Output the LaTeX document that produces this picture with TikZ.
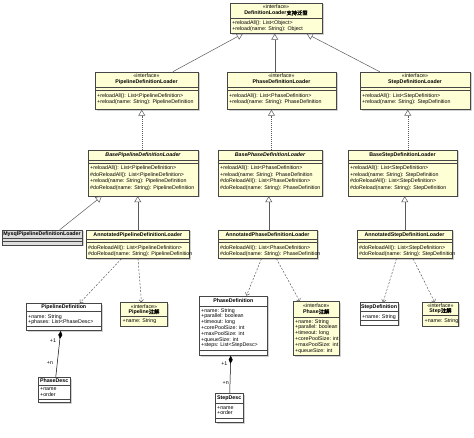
\documentclass[tikz,border=0pt]{standalone}
\usepackage{fontspec}
\setmainfont{Liberation Sans}
\newfontfamily\cjk[AutoFakeBold=2]{Noto Sans CJK SC}
\usetikzlibrary{arrows.meta,fit,shadows}
\definecolor{yfill}{RGB}{255,255,214}
\definecolor{gfill}{RGB}{222,222,222}
\definecolor{bord}{RGB}{70,70,70}
\definecolor{lc}{RGB}{90,90,90}
\newcommand\fs{\fontsize{5.3}{6}\selectfont}
\newcommand\clsbox[6]{\node[#6, fit={(#2,#3)(#4,#5)}] (#1) {};}
\newcommand\hsep[3]{\draw[sepline] (#1,#3) -- (#2,#3);}
\tikzset{
  cls/.style={draw=bord, line width=0.5pt, inner sep=0pt,
    drop shadow={shadow xshift=1.5pt, shadow yshift=-1.5pt, fill=gray!70, opacity=0.5}},
  ybox/.style={cls, fill=yfill},
  wbox/.style={cls, fill=white},
  gbox/.style={cls, fill=gfill},
  txt/.style={font=\fs, anchor=west, inner sep=0pt, text height=3.8pt, text depth=1pt},
  ttl/.style={font=\fs\bfseries, inner sep=0pt, text height=3.8pt, text depth=1pt},
  ster/.style={font=\fs, inner sep=0pt, text height=3.8pt, text depth=1pt},
  sepline/.style={draw=bord, line width=0.4pt},
  gen/.style={-{Triangle[open,length=6pt,width=7pt]}, draw=lc, line width=0.5pt},
  real/.style={gen, dash pattern=on 1pt off 1pt},
  dep/.style={-{Straight Barb[length=2.5pt,width=4.5pt]}, draw=lc, line width=0.5pt, dash pattern=on 2pt off 1.5pt},
  comp/.style={{Diamond[length=8pt,width=4pt]}-, draw=black, line width=0.5pt},
  mult/.style={font=\fs, inner sep=0pt}
}
\begin{document}
\begin{tikzpicture}[x=1pt,y=-1pt]
\useasboundingbox (0,0) rectangle (474,438);

% ---------- top interface
\clsbox{dl}{230}{3}{322}{33.5}{ybox}
\node[ster] (dls) at (276,7.5) {«interface»};
\node[ttl] (dlt) at (276,13.5) {DefinitionLoader{\cjk 支持泛型}};
\hsep{230}{322}{18.5}
\node[txt] (dlm1) at (232,23.5) {+reloadAll(): List<Object>};
\node[txt] (dlm2) at (232,29) {+reload(name: String): Object};

% ---------- level 2 interfaces
\clsbox{pdl}{95}{72}{198}{109.5}{ybox}
\node[ster] at (146.5,76.5) {«interface»};
\node[ttl] (pdlt) at (146.5,82.5) {PipelineDefinitionLoader};
\hsep{95}{198}{87.5}
\hsep{95}{198}{90.5}
\node[txt] at (97,96) {+reloadAll(): List<PipelineDefinition>};
\node[txt] at (97,102.5) {+reload(name: String): PipelineDefinition};

\clsbox{phdl}{227}{72}{336}{109.5}{ybox}
\node[ster] at (281.5,76.5) {«interface»};
\node[ttl] (phdlt) at (281.5,82.5) {PhaseDefinitionLoader};
\hsep{227}{336}{87.5}
\hsep{227}{336}{90.5}
\node[txt] at (229,96) {+reloadAll(): List<PhaseDefinition>};
\node[txt] at (229,102.5) {+reload(name: String): PhaseDefinition};

\clsbox{sdl}{360}{72}{470}{109.5}{ybox}
\node[ster] at (415,76.5) {«interface»};
\node[ttl] (sdlt) at (415,82.5) {StepDefinitionLoader};
\hsep{360}{470}{87.5}
\hsep{360}{470}{90.5}
\node[txt] at (362,96) {+reloadAll(): List<StepDefinition>};
\node[txt] at (362,102.5) {+reload(name: String): StepDefinition};

% ---------- level 3 base classes
\clsbox{bpdl}{88}{150}{198}{196}{ybox}
\node[ttl, font=\fs\bfseries\itshape] (bpdlt) at (143,155.5) {BasePipelineDefinitionLoader};
\hsep{88}{198}{160.5}
\hsep{88}{198}{163.5}
\node[txt] at (90,168.5) {+reloadAll(): List<PipelineDefinition>};
\node[txt] at (90,175) {\#doReloadAll(): List<PipelineDefinition>};
\node[txt] at (90,181.5) {+reload(name: String): PipelineDefinition};
\node[txt] at (90,188) {\#doReload(name: String): PipelineDefinition};

\clsbox{bphdl}{218}{150}{322}{196}{ybox}
\node[ttl, font=\fs\bfseries\itshape] (bphdlt) at (270,155.5) {BasePhaseDefinitionLoader};
\hsep{218}{322}{160.5}
\hsep{218}{322}{163.5}
\node[txt] at (220,168.5) {+reloadAll(): List<PhaseDefinition>};
\node[txt] at (220,175) {+reload(name: String): PhaseDefinition};
\node[txt] at (220,181.5) {\#doReloadAll(): List<PhaseDefinition>};
\node[txt] at (220,188) {\#doReload(name: String): PhaseDefinition};

\clsbox{bsdl}{348}{150}{457}{196}{ybox}
\node[ttl] (bsdlt) at (402.5,155.5) {BaseStepDefinitionLoader};
\hsep{348}{457}{160.5}
\hsep{348}{457}{163.5}
\node[txt] at (350,168.5) {+reloadAll(): List<StepDefinition>};
\node[txt] at (350,175) {+reload(name: String): StepDefinition};
\node[txt] at (350,181.5) {\#doReloadAll(): List<StepDefinition>};
\node[txt] at (350,188) {\#doReload(name: String): StepDefinition};

% ---------- level 4
\clsbox{mysql}{2}{230}{82}{245}{gbox}
\node[ttl] (mysqlt) at (42,234.5) {MysqlPipelineDefinitionLoader};
\hsep{2}{82}{238.7}
\hsep{2}{82}{241.5}

\clsbox{apdl}{86}{230}{189.5}{258.5}{ybox}
\node[ttl] (apdlt) at (137.75,235) {AnnotatedPipelineDefinitionLoader};
\hsep{86}{189.5}{239.3}
\hsep{86}{189.5}{242.7}
\node[txt] at (88,248.3) {\#doReloadAll(): List<PipelineDefinition>};
\node[txt] at (88,254) {\#doReload(name: String): PipelineDefinition};

\clsbox{aphdl}{218}{230}{317}{258.5}{ybox}
\node[ttl] (aphdlt) at (267.5,235) {AnnotatedPhaseDefinitionLoader};
\hsep{218}{317}{239.3}
\hsep{218}{317}{242.7}
\node[txt] at (220,248.3) {\#doReloadAll(): List<PhaseDefinition>};
\node[txt] at (220,254) {\#doReload(name: String): PhaseDefinition};

\clsbox{asdl}{357}{230}{452}{258.5}{ybox}
\node[ttl] (asdlt) at (404.5,235) {AnnotatedStepDefinitionLoader};
\hsep{357}{452}{239.3}
\hsep{357}{452}{242.7}
\node[txt] at (359,248.3) {\#doReloadAll(): List<StepDefinition>};
\node[txt] at (359,254) {\#doReload(name: String): StepDefinition};

% ---------- level 5 data classes
\clsbox{pd}{26}{303.3}{101.7}{330.7}{wbox}
\node[ttl] (pdt) at (63.85,307.5) {PipelineDefinition};
\hsep{26}{101.7}{311.7}
\node[txt] at (28,316.7) {+name: String};
\node[txt] at (28,322.3) {+phases: List<PhaseDesc>};
\hsep{26}{101.7}{326.7}

\clsbox{pa}{120.7}{302.7}{167.3}{326}{ybox}
\node[ster] at (144,306.7) {«interface»};
\node[ttl] (pat) at (144,312.3) {Pipeline{\cjk 注解}};
\hsep{120.7}{167.3}{316.7}
\node[txt] at (122.5,321.5) {+name: String};

\clsbox{pdesc}{38.3}{377.3}{70}{402.7}{wbox}
\node[ttl] (pdesct) at (54.15,381) {PhaseDesc};
\hsep{38.3}{70}{385}
\node[txt] at (40,389.5) {+name};
\node[txt] at (40,394.7) {+order};
\hsep{38.3}{70}{398.7}

\clsbox{phd}{199.3}{296}{267.3}{355.5}{wbox}
\node[ttl] (phdt) at (233.3,301.5) {PhaseDefinition};
\hsep{199.3}{267.3}{306}
\node[txt] at (201,310.7) {+name: String};
\node[txt] at (201,316.5) {+parallel: boolean};
\node[txt] at (201,322.3) {+timeout: long};
\node[txt] at (201,328.1) {+corePoolSize: int};
\node[txt] at (201,333.9) {+maxPoolSize: int};
\node[txt] at (201,339.7) {+queueSize: int};
\node[txt] at (201,345.5) {+steps: List<StepDesc>};
\hsep{199.3}{267.3}{350.5}

\clsbox{pha}{293.3}{301.7}{339.3}{355.5}{ybox}
\node[ster] at (316.3,306) {«interface»};
\node[ttl] (phat) at (316.3,312.3) {Phase{\cjk 注解}};
\hsep{293.3}{339.3}{317}
\node[txt] at (295,321.7) {+name: String};
\node[txt] at (295,327.5) {+parallel: boolean};
\node[txt] at (295,333.3) {+timeout: long};
\node[txt] at (295,339.1) {+corePoolSize: int};
\node[txt] at (295,344.9) {+maxPoolSize: int};
\node[txt] at (295,350.7) {+queueSize: int};

\clsbox{sdesc}{215}{393.3}{243.3}{422.7}{wbox}
\node[ttl] (sdesct) at (229.15,398.3) {StepDesc};
\hsep{215}{243.3}{403}
\node[txt] at (217,407.7) {+name};
\node[txt] at (217,413.3) {+order};
\hsep{215}{243.3}{418.3}

\clsbox{sd}{360}{302.7}{398.3}{325}{wbox}
\node[ttl] (sdt) at (379.15,307.3) {StepDefinition};
\hsep{360}{398.3}{311.7}
\node[txt] at (362,316.7) {+name: String};
\hsep{360}{398.3}{320.7}

\clsbox{sa}{422.7}{302.7}{458.3}{326}{ybox}
\node[ster] at (440.5,306.3) {«interface»};
\node[ttl] (sat) at (440.5,311.2) {Step{\cjk 注解}};
\hsep{422.7}{458.3}{315.3}
\node[txt] at (424.5,321.3) {+name: String};

% ---------- generalizations (interface extends)
\draw[gen] ([xshift=78pt]pdl.north west) -- ([xshift=13pt]dl.south west);
\draw[gen] ([xshift=48pt]phdl.north west) -- ([xshift=45pt]dl.south west);
\draw[gen] ([xshift=20pt]sdl.north west) -- ([xshift=77pt]dl.south west);

% ---------- realizations
\draw[real] ([xshift=54pt]bpdl.north west) -- ([xshift=47pt]pdl.south west);
\draw[real] ([xshift=53.7pt]bphdl.north west) -- ([xshift=44.7pt]phdl.south west);
\draw[real] ([xshift=60pt]bsdl.north west) -- ([xshift=48pt]sdl.south west);

% ---------- subclasses
\draw[gen] ([xshift=58pt]mysql.north west) -- ([xshift=14pt]bpdl.south west);
\draw[gen] ([xshift=52pt]apdl.north west) -- ([xshift=50pt]bpdl.south west);
\draw[gen] ([xshift=51pt]aphdl.north west) -- ([xshift=51pt]bphdl.south west);
\draw[gen] ([xshift=48pt]asdl.north west) -- ([xshift=57pt]bsdl.south west);

% ---------- dependencies
\draw[dep] ([xshift=35.7pt]apdl.south west) -- ([xshift=54pt]pd.north west);
\draw[dep] ([xshift=52.3pt]apdl.south west) -- ([xshift=21pt]pa.north west);
\draw[dep] ([xshift=43.7pt]aphdl.south west) -- ([xshift=47.4pt]phd.north west);
\draw[dep] ([xshift=58.7pt]aphdl.south west) -- ([xshift=6.7pt]pha.north west);
\draw[dep] ([xshift=39.7pt]asdl.south west) -- ([xshift=23.3pt]sd.north west);
\draw[dep] ([xshift=56.3pt]asdl.south west) -- ([xshift=12.3pt]sa.north west);

% ---------- compositions
\draw[comp] ([xshift=35pt]pd.south west) -- ([xshift=17.7pt]pdesc.north west);
\node[mult] (m1) at (53,340.7) {+1};
\node[mult] (m2) at (50,363.3) {+n};
\draw[comp] ([xshift=31.7pt]phd.south west) -- ([xshift=15pt]sdesc.north west);
\node[mult] (m3) at (224.3,364) {+1};
\node[mult] (m4) at (225.7,382.7) {+n};
\end{tikzpicture}
\end{document}
